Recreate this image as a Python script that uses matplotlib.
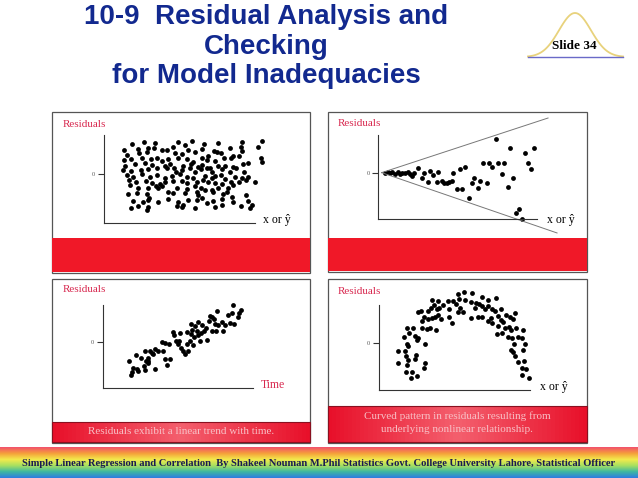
import numpy as np
import matplotlib
matplotlib.use("Agg")
import matplotlib.pyplot as plt
from matplotlib.patches import Rectangle
from matplotlib.colors import LinearSegmentedColormap

W, H = 638, 478

# ---- data (arbitrary residual units, 0 = zero line) ----
# panel 1: no pattern, random band around zero
p1_x = [232, 442, 52, 88, 120, 188, 268, 310, 382,
        28, 68, 100, 140, 155, 175, 210, 218, 262, 298, 345, 378, 428,
        35, 72, 95, 118, 180, 200, 240, 280, 305, 318, 355, 380,
        28, 48, 80, 108, 125, 140, 158, 190, 215, 235, 260, 275, 300, 328, 348, 372, 438, 440,
        30, 60, 90, 112, 150, 165, 178, 205, 228, 248, 262, 285, 310, 330, 355, 385, 400,
        25, 48, 78, 98, 125, 155, 182, 200, 225, 240, 258, 275, 290, 320, 345, 362, 388, 400,
        35, 55, 80, 105, 125, 150, 170, 195, 215, 235, 270, 290, 300, 318, 330, 360, 380, 420,
        42, 62, 92, 110, 122, 135, 150, 175, 200, 215, 245, 265, 280, 300, 322, 348, 372, 392,
        45, 70, 100, 128, 142, 185, 215, 240, 258, 270, 290, 310, 340, 355,
        40, 65, 95, 102, 160, 175, 210, 245, 250, 295, 325, 335, 350, 392,
        55, 85, 100, 130, 160, 188, 218, 245, 260, 295, 322, 355, 400,
        48, 70, 100, 185, 205, 240, 275, 300, 320, 378, 410, 405, 95, 202]
p1_r = [99, 99, 89, 95, 92, 95, 89, 92, 95,
        72, 75, 79, 72, 72, 82, 87, 72, 75, 69, 77, 82, 82,
        57, 62, 65, 77, 62, 59, 65, 55, 65, 62, 55, 69,
        42, 45, 47, 45, 49, 39, 45, 47, 45, 37, 47, 42, 39, 47, 49, 55, 49, 35,
        25, 29, 32, 27, 25, 29, 19, 25, 29, 22, 27, 17, 25, 25, 22, 29, 32,
        12, 9, 12, 15, 17, 17, 7, 12, 17, 7, 15, 19, 7, 15, 5, 17, 5, -8,
        -3, -8, -1, -8, -3, -11, -5, -1, -8, -11, -5, -13, -5, -3, -15, -8, -13, -25,
        -18, -23, -21, -28, -35, -31, -23, -21, -21, -28, -23, -18, -25, -28, -31, -25, -23, -18,
        -33, -43, -41, -41, -35, -43, -45, -35, -43, -48, -48, -41, -43, -33,
        -61, -58, -61, -71, -55, -58, -58, -53, -63, -55, -61, -55, -68, -63,
        -81, -83, -78, -83, -75, -83, -78, -78, -71, -81, -75, -83, -81,
        -101, -95, -98, -95, -93, -103, -88, -98, -93, -95, -93, -103, -108, -98]

# panel 2: spread widening with x (funnel)
p2_x = [30, 38, 45, 52, 60, 68, 75, 82, 90, 98, 105, 112, 118,
        130, 140, 148, 158, 165, 175, 185, 190, 200, 208, 215, 222, 232, 235,
        245, 255, 262, 270, 282, 290, 298, 308, 316, 325, 335, 342, 352, 362,
        370, 380, 388, 398, 405, 414, 423, 432, 440, 450, 458, 468, 478]
p2_r = [0, 3, -2, 2, -4, 1, -5, 0, -2, 1, -5, -10, -2,
        15, -17, 0, -27, 6, -7, -27, 3, -24, -32, -30, -27, -24, -2,
        -50, 10, -50, 18, -77, -30, -17, -47, -24, 28, -32, 28, 16, 100,
        28, -4, 28, -44, 73, -17, -122, -108, -140, 60, 28, 12, 73]
cone_x = [20, 519]
cone_up = [0, 164]
cone_lo_x = [20, 546]
cone_lo = [0, -181]

# panel 3: linear trend with time
p3_t = [355, 378, 372, 305, 340, 290, 298, 370, 282, 322, 345, 358, 300, 310,
        228, 250, 240, 262, 272, 290, 302, 325, 175, 195, 215, 245, 258, 228,
        238, 250, 275, 178, 192, 150, 162, 182, 140, 198, 215, 225, 235, 205,
        218, 210, 90, 105, 120, 128, 115, 100, 112, 92, 98, 62, 78, 42, 55, 65,
        90, 120, 150, 165, 155, 52, 48, 68, 88, 100,
        190, 255, 268, 330, 350, 285, 232, 145]
p3_r = [110, 97, 87, 94, 82, 74, 70, 74, 64, 60, 57, 54, 54, 50,
        54, 60, 47, 50, 42, 32, 32, 32, 30, 27, 30, 32, 27, 24,
        14, 20, 7, 20, 2, -3, -6, 4, 0, -18, -6, 2, -10, -28,
        -26, -36, -26, -28, -20, -26, -36, -48, -33, -58, -63, -40, -48, -56, -78, -80,
        -83, -80, -50, -50, -70, -90, -98, -88, -73, -58,
        -6, 2, 34, 52, 87, 77, 37, -26]

# panel 4: curved pattern (nonlinear relationship)
p4_x = [38, 38, 60, 62, 65, 70, 92, 90, 120, 118, 80, 62, 78, 95, 120, 65, 70,
        58, 72, 90, 100, 95, 65, 85, 110, 125, 135, 152, 112, 118, 130, 140, 150,
        160, 168, 100, 108, 128, 138, 148, 155, 162, 175, 140, 160, 188, 205, 220,
        238, 262, 222, 240, 258, 272, 282, 290, 310, 332, 192, 192, 200, 220, 235,
        258, 278, 292, 300, 310, 320, 330, 310, 320, 338, 348, 355, 348, 362, 375,
        390, 385, 372, 378, 392, 350, 335, 368, 380, 398, 410, 415, 420, 388, 378,
        385, 390, 415, 418, 410, 422, 412, 432, 398, 212, 225, 270, 290, 318, 340, 360]
p4_r = [-24, -61, -24, -38, -66, -51, -36, -48, -61, -76, -88, -88, -104, -98, -4, -4, -8,
        19, 29, 22, 16, 9, 46, 46, 44, 42, 46, 39, 66, 79, 72, 74, 79,
        84, 72, 92, 96, 96, 104, 114, 102, 106, 114, 129, 126, 126, 126, 146,
        152, 149, 132, 129, 122, 119, 116, 139, 129, 134, 102, 79, 59, 94, 92,
        76, 79, 79, 102, 112, 102, 96, 66, 59, 52, 69, 62, 102, 84, 79,
        89, 72, 49, 39, 46, 29, 26, 19, 14, 19, 14, 39, -4, -4, -21,
        -26, -38, -21, -54, -74, -78, -96, -106, -58, 116, 104, 104, 112, 76, 82, 46]

title_lines = ["10-9  Residual Analysis and", "Checking", "for Model Inadequacies"]
footer = ("Simple Linear Regression and Correlation  By Shakeel Nouman M.Phil "
          "Statistics Govt. College University Lahore, Statistical Officer")

RED = "#d8284f"
fig = plt.figure(figsize=(W / 100, H / 100), dpi=100)
bg = fig.add_axes([0, 0, 1, 1])
bg.set_xlim(0, W)
bg.set_ylim(H, 0)
bg.axis("off")

# title
for txt, yb in zip(title_lines, [24, 54, 83]):
    bg.text(266, yb, txt, ha="center", va="baseline", fontsize=20, fontweight="bold",
            family="Liberation Sans", color="#12298f")

# slide badge (bell icon)
bx = np.linspace(528, 623, 120)
bg.plot(bx, 57 - 44 * np.exp(-0.5 * ((bx - 575) / 16) ** 2), color="#e8d27c", lw=1.3)
bg.plot([528, 623], [57, 57], color="#6a6ac8", lw=1)
bg.text(574, 49, "Slide 34", ha="center", va="baseline", fontsize=9.5, fontweight="bold",
        family="Liberation Serif", color="black")

# footer rainbow band
rainbow = LinearSegmentedColormap.from_list(
    "rb", ["#f2526c", "#f5a03a", "#f3ea4c", "#a8e060", "#3fb8a0", "#2e7ee2"])
bg.imshow(np.linspace(0, 1, 64).reshape(-1, 1), cmap=rainbow, aspect="auto",
          extent=(0, W, 478, 447), zorder=0)
bg.text(319, 464, footer, ha="center", va="center", fontsize=7.6, fontweight="bold",
        family="Liberation Serif", color="#1a1a50")

# panel frames and captions
boxes = [(52, 112, 310, 273), (328, 112, 587, 272), (52, 279, 310, 443), (328, 279, 587, 443)]
for x0, y0, x1, y1 in boxes:
    bg.add_patch(Rectangle((x0, y0), x1 - x0, y1 - y0, fill=False, ec="#555555", lw=0.9))

bg.add_patch(Rectangle((52, 238), 258, 34, fc="#f01828", ec="none"))
bg.add_patch(Rectangle((328, 238), 259, 33, fc="#f01828", ec="none"))
grad = LinearSegmentedColormap.from_list("bar", ["#e8102a", "#f4606e", "#e8102a"])
for x0, y0, x1, y1 in [(52, 422, 310, 442), (328, 406, 587, 442)]:
    bg.imshow(np.linspace(0, 1, 64).reshape(1, -1), cmap=grad, aspect="auto",
              extent=(x0, x1, y1, y0), zorder=1)
    bg.add_patch(Rectangle((x0, y0), x1 - x0, y1 - y0, fill=False, ec="#8a1020", lw=0.8, zorder=2))
bg.text(181, 432, "Residuals exhibit a linear trend with time.", ha="center", va="center",
        fontsize=8, family="Liberation Serif", color="#f8c0c6", zorder=3)
bg.text(457, 416, "Curved pattern in residuals resulting from", ha="center", va="center",
        fontsize=8, family="Liberation Serif", color="#f8c0c6", zorder=3)
bg.text(457, 429, "underlying nonlinear relationship.", ha="center", va="center",
        fontsize=8, family="Liberation Serif", color="#f8c0c6", zorder=3)

for x, y in [(63, 124), (338, 123), (63, 289), (338, 292)]:
    bg.text(x, y, "Residuals", ha="left", va="center", fontsize=8,
            family="Liberation Serif", color=RED)
for x, y in [(263, 220), (547, 220), (540, 387)]:
    bg.text(x, y, "x or ŷ", ha="left", va="center", fontsize=8.5,
            family="Liberation Serif", color="black")
bg.text(261, 385, "Time", ha="left", va="center", fontsize=8.5,
        family="Liberation Serif", color=RED)


def panel(x0, y_top, x1, y_bot, xlim, ylim):
    ax = fig.add_axes([x0 / W, 1 - y_bot / H, (x1 - x0) / W, (y_bot - y_top) / H])
    ax.set_xlim(xlim)
    ax.set_ylim(ylim)
    ax.patch.set_alpha(0)
    for s in ["top", "right"]:
        ax.spines[s].set_visible(False)
    for s in ["left", "bottom"]:
        ax.spines[s].set_color("#333333")
        ax.spines[s].set_linewidth(0.8)
    ax.set_xticks([])
    ax.set_yticks([0])
    ax.set_yticklabels(["0"], fontsize=4.5, color="#555555", family="Liberation Serif")
    ax.tick_params(axis="y", length=4.3, width=0.8, color="#333333", pad=2)
    return ax


dot = dict(s=12, c="black", linewidths=0, clip_on=False)

ax1 = panel(104, 135, 255, 223, (-33, 420), (-147, 117))
ax1.scatter(p1_x, p1_r, **dot)

ax2 = panel(378.3, 135, 536.7, 219.3, (10, 485), (-140, 113))
ax2.plot(cone_x, cone_up, color="#777777", lw=0.7, clip_on=False)
ax2.plot(cone_lo_x, cone_lo, color="#777777", lw=0.7, clip_on=False)
ax2.scatter(p2_x, p2_r, **dot)

ax3 = panel(103, 305, 253, 388, (-36, 414), (-138, 111))
ax3.scatter(p3_t, p3_r, **dot)

ax4 = panel(379, 305, 530, 390, (-18, 435), (-141, 114))
ax4.scatter(p4_x, p4_r, **dot)

fig.savefig("out.png", dpi=100)
